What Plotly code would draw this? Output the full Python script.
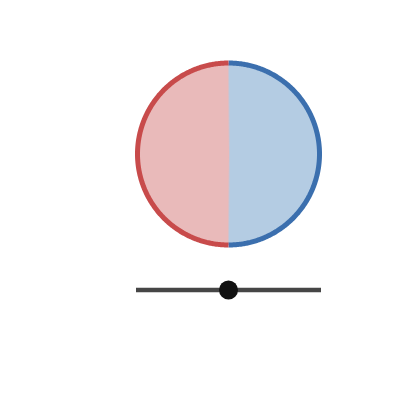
import numpy as np
import plotly.graph_objects as go

# share of the circle per side (clockwise from top), and slider position
labels = ["right", "left"]
shares = [0.5, 0.5]
fills = ["#b4cce3", "#e9baba"]
strokes = ["#3b6fae", "#c84b4b"]
slider_value = 0.5

# page body has an 8px margin, so positions are in plot pixels
CX, CY, R = 220.5, 146, 91
SX0, SX1, SY = 128, 313, 282

fig = go.Figure()
start = 0.0
for i, (lab, s, fc, lc) in enumerate(zip(labels, shares, fills, strokes)):
    a = np.linspace(start, start + s, 300) * 2 * np.pi
    x = CX + R * np.sin(a)
    y = CY - R * np.cos(a)
    # small overlap along the split so no seam shows between the halves
    pad = 0.8 if i else -0.8
    fig.add_trace(go.Scatter(
        x=np.r_[CX + pad, x, CX + pad], y=np.r_[CY - R, y, CY + R],
        mode="lines", fill="toself", fillcolor=fc, line=dict(width=0),
        line_simplify=False, hoverinfo="skip", name=lab))
    start += s

start = 0.0
for s, lc in zip(shares, strokes):
    a = np.linspace(start, start + s, 300) * 2 * np.pi
    fig.add_trace(go.Scatter(x=CX + R * np.sin(a), y=CY - R * np.cos(a), mode="lines",
                             line=dict(color=lc, width=5), line_simplify=False,
                             hoverinfo="skip"))
    start += s

fig.add_trace(go.Scatter(x=[SX0, SX1], y=[SY, SY], mode="lines",
                         line=dict(color="#464646", width=4.5), hoverinfo="skip"))
fig.add_trace(go.Scatter(x=[SX0 + slider_value * (SX1 - SX0)], y=[SY], mode="markers",
                         marker=dict(color="#111111", size=19), hoverinfo="skip"))

fig.update_xaxes(range=[0, 400], visible=False)
fig.update_yaxes(range=[400, 0], visible=False)
fig.update_layout(width=400, height=400, margin=dict(l=0, r=0, t=0, b=0),
                  showlegend=False, plot_bgcolor="white", paper_bgcolor="white")
fig.write_html("out.html")
